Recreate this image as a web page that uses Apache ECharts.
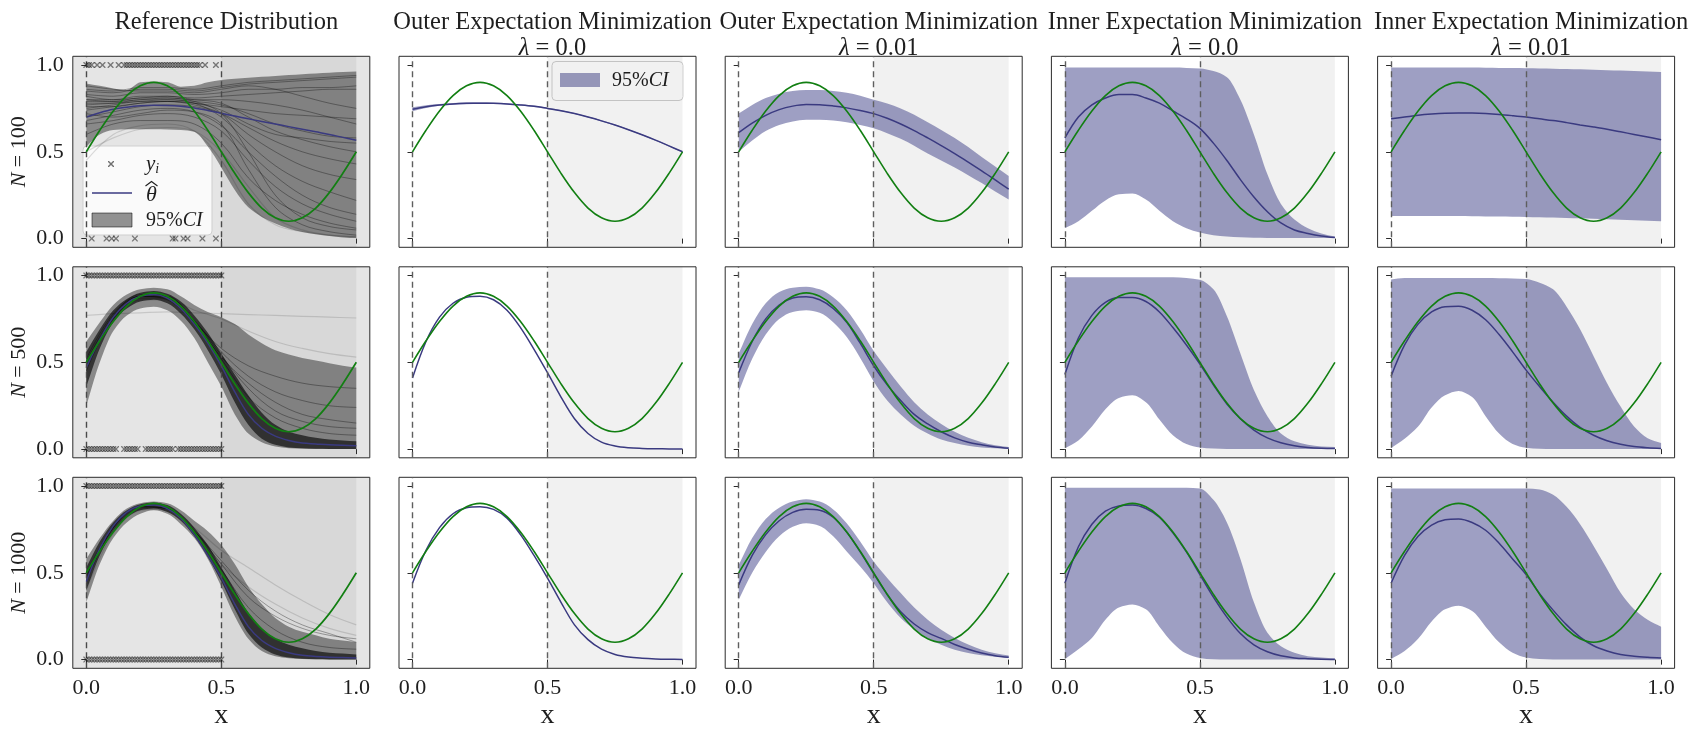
<!DOCTYPE html>
<html><head><meta charset="utf-8">
<script src="https://cdn.jsdelivr.net/npm/echarts@6/dist/echarts.min.js"></script>
<style>html,body{margin:0;padding:0;background:#fff}#c{width:1693px;height:738px}</style>
</head><body><div id="c"></div>
<script>
// ---------- data ----------
const X = [0,0.05,0.1,0.15,0.2,0.25,0.3,0.35,0.4,0.45,0.5,0.55,0.6,0.65,0.7,0.75,0.8,0.85,0.9,0.95,1];
const X10 = [0,0.1,0.2,0.3,0.4,0.5,0.6,0.7,0.8,0.9,1];
const xTicks = [0,0.5,1];
const yTicks = [0,0.5,1];
const colTitles = ['Reference Distribution','Outer Expectation Minimization','Outer Expectation Minimization','Inner Expectation Minimization','Inner Expectation Minimization'];
const colLambdas = [null,'0.0','0.01','0.0','0.01'];
const rowLabels = ['100','500','1000'];

const truth = [0.5,0.624,0.735,0.824,0.880,0.9,0.880,0.824,0.735,0.624,0.5,0.376,0.265,0.176,0.120,0.1,0.120,0.176,0.265,0.376,0.5];

// Row N=100
const ref100Hat = [0.70,0.725,0.745,0.757,0.765,0.768,0.767,0.762,0.752,0.738,0.722,0.706,0.69,0.675,0.66,0.645,0.63,0.615,0.6,0.583,0.566];
const ref100Up  = [0.894,0.88,0.865,0.856,0.9,0.905,0.9,0.875,0.88,0.9,0.913,0.92,0.926,0.932,0.937,0.942,0.947,0.951,0.955,0.959,0.962];
const ref100Lo  = [0.53,0.6,0.625,0.63,0.63,0.63,0.628,0.625,0.615,0.53,0.41,0.28,0.18,0.125,0.087,0.058,0.038,0.025,0.015,0.007,0.003];
const ref100Samples = [
  [0.85,0.84,0.86,0.86,0.85,0.87,0.89,0.9,0.91,0.92,0.93],
  [0.80,0.80,0.82,0.82,0.81,0.82,0.83,0.84,0.85,0.86,0.86],
  [0.75,0.77,0.79,0.79,0.78,0.76,0.74,0.72,0.71,0.70,0.69],
  [0.70,0.73,0.76,0.77,0.76,0.72,0.64,0.56,0.50,0.46,0.43],
  [0.78,0.78,0.80,0.80,0.78,0.70,0.55,0.42,0.33,0.27,0.22],
  [0.66,0.68,0.71,0.72,0.70,0.62,0.45,0.30,0.20,0.14,0.10],
  [0.72,0.70,0.72,0.74,0.73,0.66,0.40,0.18,0.08,0.04,0.02],
  [0.82,0.80,0.81,0.82,0.80,0.78,0.70,0.62,0.57,0.53,0.50],
  [0.60,0.66,0.68,0.68,0.66,0.55,0.35,0.22,0.14,0.09,0.06],
  [0.88,0.86,0.85,0.85,0.84,0.86,0.88,0.86,0.82,0.78,0.75],
  [0.86,0.85,0.87,0.87,0.86,0.88,0.9,0.91,0.92,0.93,0.94],
  [0.79,0.79,0.81,0.81,0.8,0.8,0.79,0.77,0.74,0.7,0.66],
  [0.74,0.76,0.78,0.79,0.78,0.74,0.66,0.6,0.58,0.56,0.55],
  [0.76,0.76,0.78,0.79,0.77,0.72,0.6,0.5,0.42,0.37,0.34],
  [0.68,0.71,0.74,0.75,0.73,0.65,0.5,0.36,0.25,0.18,0.14],
  [0.8,0.79,0.8,0.81,0.79,0.72,0.5,0.25,0.12,0.07,0.05],
  [0.77,0.78,0.79,0.8,0.79,0.77,0.72,0.66,0.62,0.59,0.58],
  [0.83,0.82,0.84,0.84,0.83,0.84,0.86,0.86,0.87,0.87,0.88]
];
const ref100Faint = [
  [0.5,0.58,0.63,0.64,0.62,0.5,0.3,0.12,0.05,0.02,0.01],
  [0.45,0.6,0.65,0.66,0.62,0.45,0.2,0.08,0.04,0.02,0.01]
];
const ref100OnesX = [0,0.01,0.02,0.04,0.06,0.09,0.12,0.14,0.15,0.16,0.17,0.18,0.19,0.2,0.21,0.22,0.23,0.24,0.25,0.26,0.27,0.28,0.29,0.3,0.31,0.32,0.33,0.34,0.35,0.36,0.37,0.38,0.39,0.4,0.41,0.42,0.44,0.48];
const ref100ZerosX = [0.02,0.075,0.094,0.11,0.18,0.32,0.33,0.36,0.375,0.43,0.48];

const outer0N100Hat = [0.745,0.76,0.77,0.776,0.779,0.78,0.779,0.776,0.77,0.762,0.75,0.737,0.72,0.7,0.678,0.654,0.627,0.598,0.567,0.534,0.5];
const outer0N100Up  = [0.757,0.768,0.775,0.781,0.784,0.785,0.783,0.78,0.774,0.766,0.754,0.741,0.723,0.703,0.681,0.657,0.63,0.601,0.57,0.537,0.503];
const outer0N100Lo  = [0.733,0.752,0.765,0.771,0.774,0.775,0.775,0.772,0.766,0.758,0.746,0.733,0.717,0.697,0.675,0.651,0.624,0.595,0.564,0.531,0.497];

const outer01N100Hat = [0.61,0.665,0.71,0.743,0.763,0.772,0.771,0.764,0.753,0.738,0.72,0.693,0.66,0.622,0.58,0.536,0.49,0.44,0.39,0.338,0.285];
const outer01N100Up  = [0.72,0.77,0.81,0.835,0.85,0.856,0.856,0.85,0.84,0.823,0.80,0.778,0.75,0.713,0.67,0.626,0.58,0.527,0.47,0.415,0.36];
const outer01N100Lo  = [0.50,0.565,0.62,0.655,0.675,0.684,0.685,0.68,0.67,0.655,0.635,0.607,0.575,0.535,0.49,0.45,0.41,0.365,0.32,0.272,0.225];

const inner0N100Hat = [0.58,0.7,0.77,0.81,0.83,0.83,0.81,0.78,0.735,0.69,0.635,0.55,0.45,0.34,0.24,0.155,0.09,0.05,0.03,0.015,0.006];
const inner0N100Up  = [0.985,0.985,0.985,0.985,0.985,0.985,0.985,0.985,0.985,0.983,0.98,0.965,0.93,0.8,0.6,0.37,0.2,0.11,0.06,0.03,0.012];
const inner0N100Lo  = [0.06,0.1,0.16,0.22,0.255,0.26,0.225,0.16,0.1,0.06,0.035,0.02,0.012,0.008,0.005,0.004,0.003,0.003,0.003,0.003,0.003];

const inner01N100Hat = [0.69,0.70,0.71,0.717,0.722,0.724,0.723,0.72,0.715,0.708,0.70,0.69,0.68,0.668,0.655,0.643,0.63,0.615,0.60,0.585,0.57];
const inner01N100Up  = [0.985,0.985,0.985,0.985,0.985,0.985,0.985,0.984,0.983,0.982,0.981,0.98,0.979,0.977,0.975,0.973,0.97,0.968,0.965,0.962,0.96];
const inner01N100Lo  = [0.13,0.13,0.13,0.13,0.13,0.13,0.129,0.128,0.127,0.126,0.125,0.123,0.121,0.119,0.117,0.115,0.112,0.109,0.106,0.103,0.10];

// Row N=500
const ref500Hat = [0.47,0.63,0.76,0.84,0.88,0.89,0.87,0.81,0.72,0.61,0.48,0.33,0.2,0.12,0.075,0.05,0.035,0.03,0.025,0.022,0.02];
const ref500Up  = [0.62,0.73,0.83,0.89,0.92,0.93,0.92,0.88,0.83,0.79,0.76,0.72,0.66,0.61,0.57,0.545,0.525,0.51,0.495,0.48,0.47];
const ref500Lo  = [0.25,0.5,0.68,0.77,0.81,0.82,0.8,0.74,0.64,0.5,0.36,0.2,0.09,0.04,0.015,0.005,0.002,0,0,0,0];
const ref500CoreUp = [0.56,0.69,0.8,0.865,0.9,0.91,0.895,0.85,0.77,0.67,0.55,0.43,0.31,0.21,0.14,0.1,0.08,0.065,0.055,0.05,0.045];
const ref500CoreLo = [0.36,0.58,0.73,0.81,0.85,0.86,0.84,0.78,0.69,0.57,0.43,0.27,0.14,0.06,0.025,0.01,0.005,0.002,0.001,0,0];
const ref500Samples = [
  [0.48,0.75,0.87,0.87,0.74,0.56,0.42,0.33,0.28,0.25,0.24],
  [0.45,0.76,0.88,0.88,0.73,0.52,0.3,0.18,0.12,0.09,0.08],
  [0.5,0.77,0.89,0.88,0.74,0.54,0.35,0.22,0.16,0.13,0.12],
  [0.52,0.78,0.88,0.86,0.73,0.58,0.48,0.42,0.38,0.36,0.35],
  [0.47,0.76,0.88,0.87,0.73,0.53,0.38,0.27,0.2,0.17,0.15]
];
const ref500Faint = [
  [0.77,0.78,0.785,0.79,0.785,0.78,0.775,0.77,0.765,0.76,0.755],
  [0.5,0.75,0.86,0.86,0.8,0.75,0.68,0.62,0.58,0.55,0.53]
];
const ref500OnesX = [0,0.01,0.02,0.03,0.04,0.05,0.06,0.07,0.08,0.09,0.1,0.11,0.12,0.13,0.14,0.15,0.16,0.17,0.18,0.19,0.2,0.21,0.22,0.23,0.24,0.25,0.26,0.27,0.28,0.29,0.3,0.31,0.32,0.33,0.34,0.35,0.36,0.37,0.38,0.39,0.4,0.41,0.42,0.43,0.44,0.45,0.46,0.47,0.48,0.49,0.5];
const ref500ZerosX = [0,0.01,0.02,0.03,0.04,0.05,0.06,0.07,0.08,0.09,0.1,0.11,0.14,0.15,0.16,0.17,0.18,0.19,0.22,0.23,0.24,0.25,0.26,0.27,0.28,0.29,0.3,0.31,0.32,0.34,0.35,0.36,0.37,0.38,0.39,0.4,0.41,0.42,0.43,0.44,0.45,0.46,0.47,0.48,0.49,0.5];

const outer0N500Hat = [0.41,0.62,0.76,0.84,0.875,0.88,0.86,0.8,0.7,0.575,0.44,0.3,0.175,0.09,0.04,0.018,0.008,0.004,0.002,0.001,0.0];

const outer01N500Hat = [0.44,0.62,0.75,0.83,0.87,0.877,0.86,0.81,0.73,0.61,0.48,0.37,0.28,0.2,0.145,0.1,0.065,0.04,0.025,0.012,0.005];
const outer01N500Up  = [0.55,0.72,0.84,0.905,0.93,0.935,0.92,0.875,0.8,0.69,0.565,0.46,0.36,0.27,0.2,0.145,0.1,0.065,0.04,0.022,0.012];
const outer01N500Lo  = [0.33,0.52,0.66,0.75,0.79,0.8,0.785,0.73,0.645,0.525,0.39,0.28,0.2,0.135,0.09,0.055,0.035,0.02,0.01,0.005,0.002];

const inner0N500Hat = [0.43,0.64,0.77,0.845,0.873,0.873,0.85,0.79,0.7,0.6,0.49,0.37,0.26,0.175,0.11,0.065,0.037,0.02,0.01,0.005,0.003];
const inner0N500Up  = [0.99,0.99,0.99,0.99,0.99,0.99,0.99,0.99,0.99,0.985,0.975,0.92,0.765,0.55,0.34,0.19,0.09,0.045,0.025,0.015,0.012];
const inner0N500Lo  = [0.005,0.05,0.13,0.23,0.295,0.31,0.27,0.17,0.08,0.03,0.01,0.003,0.001,0,0,0,0,0,0,0,0];

const inner01N500Hat = [0.42,0.6,0.72,0.79,0.82,0.823,0.8,0.745,0.66,0.56,0.455,0.36,0.27,0.19,0.125,0.08,0.048,0.028,0.015,0.008,0.004];
const inner01N500Up  = [0.977,0.985,0.985,0.985,0.985,0.985,0.985,0.985,0.984,0.983,0.98,0.958,0.92,0.82,0.69,0.535,0.38,0.245,0.13,0.063,0.035];
const inner01N500Lo  = [0.006,0.06,0.13,0.24,0.31,0.335,0.3,0.19,0.09,0.03,0.008,0.002,0,0,0,0,0,0,0,0,0];

// Row N=1000
const ref1000Hat = [0.45,0.64,0.77,0.85,0.885,0.89,0.87,0.815,0.72,0.6,0.47,0.32,0.19,0.11,0.065,0.04,0.025,0.018,0.014,0.012,0.01];
const ref1000Up  = [0.58,0.7,0.8,0.87,0.9,0.91,0.9,0.86,0.8,0.74,0.66,0.55,0.42,0.32,0.24,0.19,0.16,0.14,0.12,0.11,0.1];
const ref1000Lo  = [0.33,0.55,0.7,0.79,0.84,0.86,0.84,0.78,0.7,0.58,0.42,0.25,0.12,0.05,0.02,0.008,0.004,0.002,0.001,0,0];
const ref1000CoreUp = [0.53,0.68,0.79,0.86,0.895,0.905,0.89,0.84,0.76,0.66,0.53,0.4,0.27,0.18,0.12,0.085,0.065,0.05,0.04,0.035,0.03];
const ref1000CoreLo = [0.4,0.6,0.74,0.82,0.86,0.87,0.85,0.8,0.71,0.59,0.45,0.29,0.15,0.07,0.03,0.012,0.005,0.002,0.001,0,0];
const ref1000Samples = [
  [0.47,0.76,0.88,0.87,0.74,0.55,0.36,0.25,0.18,0.14,0.12],
  [0.45,0.76,0.88,0.87,0.73,0.52,0.3,0.17,0.1,0.07,0.06],
  [0.48,0.77,0.88,0.87,0.74,0.57,0.4,0.28,0.2,0.15,0.1]
];
const ref1000Faint = [
  [0.5,0.76,0.87,0.86,0.76,0.63,0.53,0.43,0.34,0.26,0.2],
  [0.4,0.73,0.86,0.87,0.74,0.55,0.42,0.32,0.24,0.18,0.14]
];
const ref1000OnesX = [0,0.01,0.02,0.03,0.04,0.05,0.06,0.07,0.08,0.09,0.1,0.11,0.12,0.13,0.14,0.15,0.16,0.17,0.18,0.19,0.2,0.21,0.22,0.23,0.24,0.25,0.26,0.27,0.28,0.29,0.3,0.31,0.32,0.33,0.34,0.35,0.36,0.37,0.38,0.39,0.4,0.41,0.42,0.43,0.44,0.45,0.46,0.47,0.48,0.49,0.5];
const ref1000ZerosX = [0,0.01,0.02,0.03,0.04,0.05,0.06,0.07,0.08,0.09,0.1,0.11,0.12,0.13,0.14,0.15,0.16,0.17,0.18,0.19,0.2,0.21,0.22,0.23,0.24,0.25,0.26,0.27,0.28,0.29,0.3,0.31,0.32,0.33,0.34,0.35,0.36,0.37,0.38,0.39,0.4,0.41,0.42,0.43,0.44,0.45,0.46,0.47,0.48,0.49,0.5];

const outer0N1000Hat = [0.44,0.63,0.76,0.84,0.875,0.88,0.865,0.815,0.72,0.6,0.47,0.33,0.2,0.115,0.06,0.03,0.015,0.008,0.004,0.002,0.001];

const outer01N1000Hat = [0.43,0.6,0.72,0.8,0.848,0.866,0.86,0.82,0.735,0.62,0.495,0.375,0.275,0.205,0.155,0.122,0.087,0.06,0.038,0.022,0.013];
const outer01N1000Up  = [0.545,0.7,0.81,0.875,0.91,0.923,0.91,0.865,0.785,0.68,0.565,0.47,0.383,0.3,0.23,0.172,0.125,0.087,0.057,0.036,0.023];
const outer01N1000Lo  = [0.345,0.5,0.62,0.71,0.765,0.785,0.77,0.71,0.623,0.536,0.44,0.33,0.24,0.175,0.125,0.085,0.057,0.038,0.025,0.016,0.01];

const inner0N1000Hat = [0.44,0.65,0.78,0.855,0.885,0.89,0.87,0.82,0.73,0.62,0.49,0.36,0.245,0.15,0.085,0.045,0.022,0.01,0.005,0.002,0.001];
const inner0N1000Up  = [0.99,0.99,0.99,0.99,0.99,0.99,0.99,0.99,0.99,0.99,0.985,0.92,0.79,0.58,0.33,0.155,0.077,0.04,0.02,0.012,0.008];
const inner0N1000Lo  = [0.004,0.06,0.125,0.23,0.3,0.317,0.29,0.19,0.096,0.035,0.01,0.002,0,0,0,0,0,0,0,0,0];

const inner01N1000Hat = [0.44,0.6,0.71,0.775,0.805,0.81,0.79,0.745,0.67,0.58,0.49,0.38,0.285,0.2,0.13,0.08,0.05,0.03,0.02,0.014,0.01];
const inner01N1000Up  = [0.985,0.985,0.985,0.985,0.985,0.985,0.985,0.985,0.985,0.985,0.985,0.98,0.95,0.88,0.78,0.655,0.52,0.385,0.29,0.23,0.19];
const inner01N1000Lo  = [0.004,0.05,0.12,0.22,0.29,0.31,0.28,0.19,0.1,0.04,0.012,0.003,0,0,0,0,0,0,0,0,0];

// ---------- styling ----------
const FONT = "'Liberation Serif','DejaVu Serif',serif";
const TXT = '#1e1e1e';
const BLUE = '#3a3a80';
const BAND = 'rgba(61,63,135,0.5)';
const GREEN = '#127f12';
const GREYBAND = 'rgba(0,0,0,0.4)';
const CORE = 'rgba(0,0,0,0.62)';
const XMARK = 'path://M0,0L1.6,0L5,3.4L8.4,0L10,0L10,1.6L6.6,5L10,8.4L10,10L8.4,10L5,6.6L1.6,10L0,10L0,8.4L3.4,5L0,1.6Z';
const SM = 0.35;

// monotone cubic (Fritsch-Carlson) bezier segments through pixel points
function monoSegs(p) {
  const n = p.length, dx = [], s = [], m = [];
  for (let i = 0; i < n - 1; i++) { dx[i] = p[i+1][0] - p[i][0]; s[i] = dx[i] ? (p[i+1][1] - p[i][1]) / dx[i] : 0; }
  m[0] = s[0]; m[n-1] = s[n-2];
  for (let i = 1; i < n - 1; i++) {
    if (s[i-1] * s[i] <= 0) m[i] = 0;
    else m[i] = 3 * (dx[i-1] + dx[i]) / ((2 * dx[i] + dx[i-1]) / s[i-1] + (dx[i] + 2 * dx[i-1]) / s[i]);
  }
  const segs = [];
  for (let i = 0; i < n - 1; i++) {
    const h = dx[i] / 3;
    segs.push([[p[i][0] + h, p[i][1] + m[i] * h], [p[i+1][0] - h, p[i+1][1] - m[i+1] * h], p[i+1], p[i]]);
  }
  return segs;
}
function bandPath(upPx, loPx) {
  const f = v => v.toFixed(2);
  let d = 'M' + f(upPx[0][0]) + ',' + f(upPx[0][1]);
  monoSegs(upPx).forEach(sg => { d += 'C' + f(sg[0][0]) + ',' + f(sg[0][1]) + ' ' + f(sg[1][0]) + ',' + f(sg[1][1]) + ' ' + f(sg[2][0]) + ',' + f(sg[2][1]); });
  const n = loPx.length;
  d += 'L' + f(loPx[n-1][0]) + ',' + f(loPx[n-1][1]);
  const ls = monoSegs(loPx);
  for (let i = ls.length - 1; i >= 0; i--) {
    const sg = ls[i];
    d += 'C' + f(sg[1][0]) + ',' + f(sg[1][1]) + ' ' + f(sg[0][0]) + ',' + f(sg[0][1]) + ' ' + f(sg[3][0]) + ',' + f(sg[3][1]);
  }
  return d + 'Z';
}

const series = [];
const P = (xs, ys) => xs.map((x, i) => [x, ys[i]]);
function addBand(g, xs, lo, up, color, z) {
  series.push({type:'custom', xAxisIndex:g, yAxisIndex:g, z, silent:true, animation:false, clip:true,
    data: xs.map((x, i) => [x, lo[i], up[i]]),
    encode:{x:0, y:[1, 2]},
    renderItem: (params, api) => {
      if (params.dataIndex !== 0) return null;
      const upPx = xs.map((x, i) => api.coord([x, up[i]]));
      const loPx = xs.map((x, i) => api.coord([x, lo[i]]));
      return {type:'path', shape:{pathData: bandPath(upPx, loPx)}, style:{fill:color}};
    }});
}
function addLine(g, xs, ys, color, width, z) {
  series.push({type:'line', xAxisIndex:g, yAxisIndex:g, data:P(xs, ys), symbol:'none', smooth:SM, lineStyle:{color, width}, z, silent:true, animation:false});
}
function addShade(g) {
  series.push({type:'line', xAxisIndex:g, yAxisIndex:g, data:[], z:1, silent:true, animation:false,
    markArea:{silent:true, itemStyle:{color:'rgba(0,0,0,0.055)'}, data:[[{xAxis:0.5},{xAxis:1}]]}});
}
function addDash(g, color) {
  series.push({type:'line', xAxisIndex:g, yAxisIndex:g, data:[], z:4, silent:true, animation:false,
    markLine:{silent:true, symbol:['none','none'], label:{show:false}, animation:false,
      lineStyle:{color, type:[6,4], width:1.4}, data:[{xAxis:0},{xAxis:0.5}]}});
}
function addMarks(g, xs, yv) {
  series.push({type:'scatter', xAxisIndex:g, yAxisIndex:g, data:xs.map(x => [x, yv]), symbol:XMARK, symbolSize:6,
    itemStyle:{color:'rgba(20,20,20,0.65)'}, z:5, silent:true, animation:false});
}

const refRows = [
  {hat:ref100Hat, up:ref100Up, lo:ref100Lo, core:null, samples:ref100Samples, faint:ref100Faint, ones:ref100OnesX, zeros:ref100ZerosX},
  {hat:ref500Hat, up:ref500Up, lo:ref500Lo, core:[ref500CoreLo, ref500CoreUp], samples:ref500Samples, faint:ref500Faint, ones:ref500OnesX, zeros:ref500ZerosX},
  {hat:ref1000Hat, up:ref1000Up, lo:ref1000Lo, core:[ref1000CoreLo, ref1000CoreUp], samples:ref1000Samples, faint:ref1000Faint, ones:ref1000OnesX, zeros:ref1000ZerosX}
];
const modelPanels = [
  [ {hat:outer0N100Hat, lo:outer0N100Lo, up:outer0N100Up}, {hat:outer01N100Hat, lo:outer01N100Lo, up:outer01N100Up},
    {hat:inner0N100Hat, lo:inner0N100Lo, up:inner0N100Up}, {hat:inner01N100Hat, lo:inner01N100Lo, up:inner01N100Up} ],
  [ {hat:outer0N500Hat}, {hat:outer01N500Hat, lo:outer01N500Lo, up:outer01N500Up},
    {hat:inner0N500Hat, lo:inner0N500Lo, up:inner0N500Up}, {hat:inner01N500Hat, lo:inner01N500Lo, up:inner01N500Up} ],
  [ {hat:outer0N1000Hat}, {hat:outer01N1000Hat, lo:outer01N1000Lo, up:outer01N1000Up},
    {hat:inner0N1000Hat, lo:inner0N1000Lo, up:inner0N1000Up}, {hat:inner01N1000Hat, lo:inner01N1000Lo, up:inner01N1000Up} ]
];

const grids = [], xAxes = [], yAxes = [], titles = [];
const L0 = 72.8, DX = 326.2, T0 = 56.3, DY = 210.5, W = 297, H = 191;
for (let r = 0; r < 3; r++) {
  for (let c = 0; c < 5; c++) {
    const g = r * 5 + c;
    grids.push({left:L0 + c * DX, top:T0 + r * DY, width:W, height:H, show:true,
      backgroundColor: c === 0 ? '#e5e5e5' : '#ffffff', borderColor:'#2b2b2b', borderWidth:1,
      containLabel:false, outerBoundsMode:'none'});
    xAxes.push({type:'value', gridIndex:g, min:-0.05, max:1.05, axisLine:{show:false}, splitLine:{show:false},
      axisTick:{show:true, length:5, customValues:xTicks, lineStyle:{color:'#2b2b2b', width:1}},
      axisLabel:{show:r === 2, customValues:xTicks, formatter:v => v.toFixed(1), fontFamily:FONT, fontSize:22, color:TXT, margin:9},
      name: r === 2 ? 'x' : '', nameLocation:'middle', nameGap:33,
      nameTextStyle:{fontFamily:FONT, fontSize:28, color:TXT}});
    yAxes.push({type:'value', gridIndex:g, min:-0.05, max:1.05, axisLine:{show:false}, splitLine:{show:false},
      axisTick:{show:true, length:5, customValues:yTicks, lineStyle:{color:'#2b2b2b', width:1}},
      axisLabel:{show:c === 0, customValues:yTicks, formatter:v => v.toFixed(1), fontFamily:FONT, fontSize:22, color:TXT, margin:9},
      name: c === 0 ? '{i|N} = ' + rowLabels[r] : '', nameLocation:'middle', nameGap:43, nameRotate:90,
      nameTextStyle:{fontFamily:FONT, fontSize:22, color:TXT, rich:{i:{fontFamily:FONT, fontSize:22, fontStyle:'italic', color:TXT}}}});

    addShade(g);
    if (c === 0) {
      const d = refRows[r];
      addBand(g, X, d.lo, d.up, GREYBAND, 2);
      if (d.core) addBand(g, X, d.core[0], d.core[1], CORE, 3);
      d.faint.forEach(s => addLine(g, X10, s, 'rgba(0,0,0,0.13)', 1.2, 3));
      d.samples.forEach(s => addLine(g, X10, s, 'rgba(0,0,0,0.33)', 1, 3));
      addLine(g, X, d.hat, BLUE, 1.5, 4);
      addDash(g, '#4a4a4a');
      addMarks(g, d.ones, 1);
      addMarks(g, d.zeros, 0);
      addLine(g, X, truth, GREEN, 1.7, 6);
    } else {
      const d = modelPanels[r][c - 1];
      if (d.lo) addBand(g, X, d.lo, d.up, BAND, 2);
      addDash(g, '#5e5e5e');
      addLine(g, X, d.hat, BLUE, 1.5, 4);
      addLine(g, X, truth, GREEN, 1.6, 6);
    }
  }
}
for (let c = 0; c < 5; c++) {
  const cx = L0 + c * DX + W / 2;
  const fs = 24.5;
  const text = colLambdas[c] === null ? '{a|' + colTitles[c] + '}'
    : '{a|' + colTitles[c] + '}\n{l|λ}{a| = ' + colLambdas[c] + '}';
  titles.push({text, left:cx, top:5, textAlign:'center',
    textStyle:{fontFamily:FONT, fontSize:fs, fontWeight:'normal', color:TXT, lineHeight:26,
      rich:{a:{fontFamily:FONT, fontSize:fs, color:TXT, lineHeight:26}, l:{fontFamily:FONT, fontSize:fs, fontStyle:'italic', color:TXT, lineHeight:26}}}});
}

const legendText = (x, y, text, rich) => ({type:'text', x, y, style:{text, verticalAlign:'middle', fill:TXT, rich}});
const ciRich = {n:{fontFamily:FONT, fontSize:20, fill:TXT}, i:{fontFamily:FONT, fontSize:20, fontStyle:'italic', fill:TXT}};
const graphic = [
  {type:'group', z:100, children:[
    {type:'rect', shape:{x:83, y:146, width:129, height:89, r:4}, style:{fill:'rgba(255,255,255,0.8)', stroke:'#cfcfcf', lineWidth:1}},
    {type:'polygon', shape:{points:[[108,161],[109,161],[111,163],[113,161],[114,161],[114,162],[112,164],[114,166],[114,167],[113,167],[111,165],[109,167],[108,167],[108,166],[110,164],[108,162]]}, style:{fill:'rgba(20,20,20,0.6)'}},
    legendText(146, 164, '{i|y}{s|i}', {i:{fontFamily:FONT, fontSize:21, fontStyle:'italic', fill:TXT}, s:{fontFamily:FONT, fontSize:14, fontStyle:'italic', fill:TXT, padding:[10,0,0,0]}}),
    {type:'line', shape:{x1:92, y1:193, x2:132, y2:193}, style:{stroke:BLUE, lineWidth:1.5}},
    legendText(146, 195, '{t|θ}', {t:{fontFamily:FONT, fontSize:22, fontStyle:'italic', fill:TXT}}),
    {type:'polyline', shape:{points:[[145.5,186],[151.5,181.5],[157.5,186]]}, style:{stroke:TXT, lineWidth:1.1, fill:null}},
    {type:'rect', shape:{x:92, y:213, width:40, height:14}, style:{fill:'rgba(0,0,0,0.42)', stroke:'rgba(0,0,0,0.5)', lineWidth:1}},
    legendText(146, 221, '{n|95%}{i|CI}', ciRich)
  ]},
  {type:'group', z:100, children:[
    {type:'rect', shape:{x:552, y:61.5, width:131, height:39, r:4}, style:{fill:'rgba(255,255,255,0.8)', stroke:'#cfcfcf', lineWidth:1}},
    {type:'rect', shape:{x:560, y:73, width:40, height:14}, style:{fill:BAND}},
    legendText(612, 81, '{n|95%}{i|CI}', ciRich)
  ]}
];

const chart = echarts.init(document.getElementById('c'), null, {renderer:'canvas', width:1693, height:738});
chart.setOption({
  animation:false,
  backgroundColor:'#ffffff',
  title:titles,
  grid:grids,
  xAxis:xAxes,
  yAxis:yAxes,
  series,
  graphic
});
</script>
</body></html>
